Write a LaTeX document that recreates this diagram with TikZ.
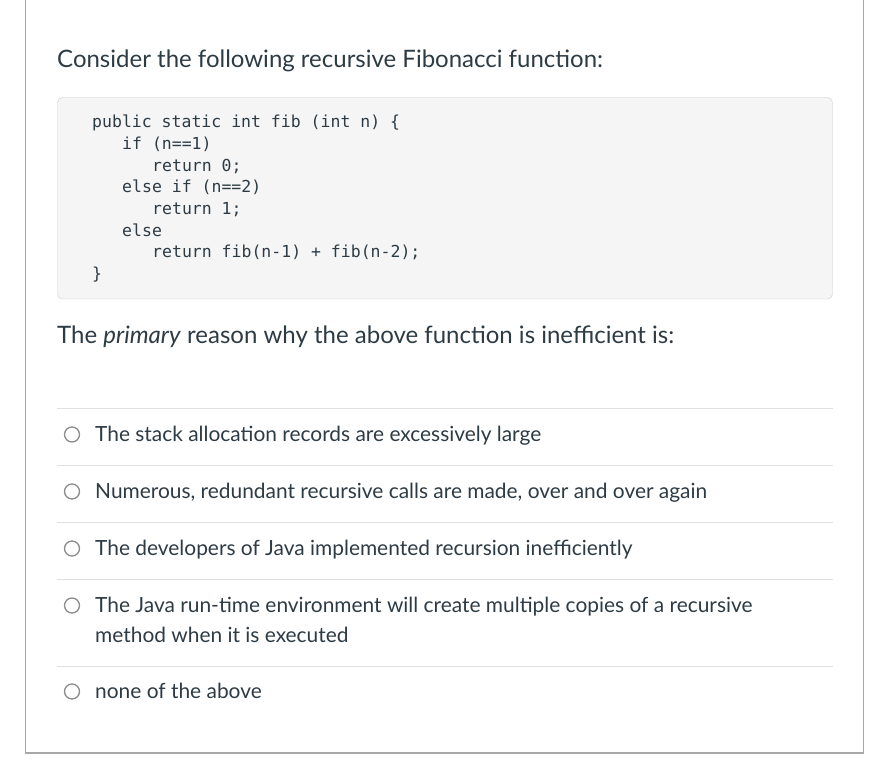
\documentclass[tikz,border=0pt]{standalone}
\usepackage{fontspec}
\setmainfont{Lato}
\newfontfamily\codefont{DejaVu Sans Mono}
\definecolor{txtc}{HTML}{2D3B45}
\definecolor{codebg}{HTML}{F5F5F5}
\definecolor{codeln}{HTML}{C7CDD1}
\definecolor{sepln}{HTML}{E0E0E0}
\definecolor{frameln}{HTML}{A8A8A8}
\begin{document}
\begin{tikzpicture}[x=1pt,y=-1pt,
  every node/.style={inner sep=0pt,text=txtc},
  head/.style={anchor=base west,font=\fontsize{24}{30}\selectfont},
  answer/.style={anchor=base west,font=\fontsize{20.9}{30}\selectfont},
  codeline/.style={anchor=base west,font=\codefont\fontsize{16.5}{21.7}\selectfont},
  radio/.style={circle,draw=gray!90,line width=1.3pt,minimum size=15pt}]
\useasboundingbox (0,0) rectangle (896,783);
\draw[frameln,line width=1.5pt] (25.5,0) |- (863.5,753) -- (863.5,0);
\node[head] (title) at (57,68) {Consider the following recursive Fibonacci function:};
\draw[codeln,fill=codebg,rounded corners=5pt] (57.5,97.5) rectangle (832.5,299);
% code lines
\node[codeline] (c1) at (92,128) {public static int fib (int n) \{};
\node[codeline] (c2) at (122,150) {if (n==1)};
\node[codeline] (c3) at (152,171.5) {return 0;};
\node[codeline] (c4) at (122,193) {else if (n==2)};
\node[codeline] (c5) at (152,215) {return 1;};
\node[codeline] (c6) at (122,236.5) {else};
\node[codeline] (c7) at (152,258) {return fib(n-1) + fib(n-2);};
\node[codeline] (c8) at (92,280) {\}};
\node[head] (question) at (57,343) {The \textit{primary} reason why the above function is inefficient is:};
\foreach \y in {408,465.5,522,579,666}
  \draw[sepln,line width=1pt] (57,\y) -- (833,\y);
% answers
\node[radio] (r1) at (72,434.5) {};
\node[radio] (r2) at (72,491.5) {};
\node[radio] (r3) at (72,548.5) {};
\node[radio] (r4) at (72,605.5) {};
\node[radio] (r5) at (72,691.5) {};
\node[answer] (a1) at (95,441) {The stack allocation records are excessively large};
\node[answer] (a2) at (95,498) {Numerous, redundant recursive calls are made, over and over again};
\node[answer] (a3) at (95,555) {The developers of Java implemented recursion inefficiently};
\node[answer] (a4) at (95,612) {The Java run-time environment will create multiple copies of a recursive};
\node[answer] (a4b) at (95,642) {method when it is executed};
\node[answer] (a5) at (95,698) {none of the above};
\end{tikzpicture}
\end{document}
